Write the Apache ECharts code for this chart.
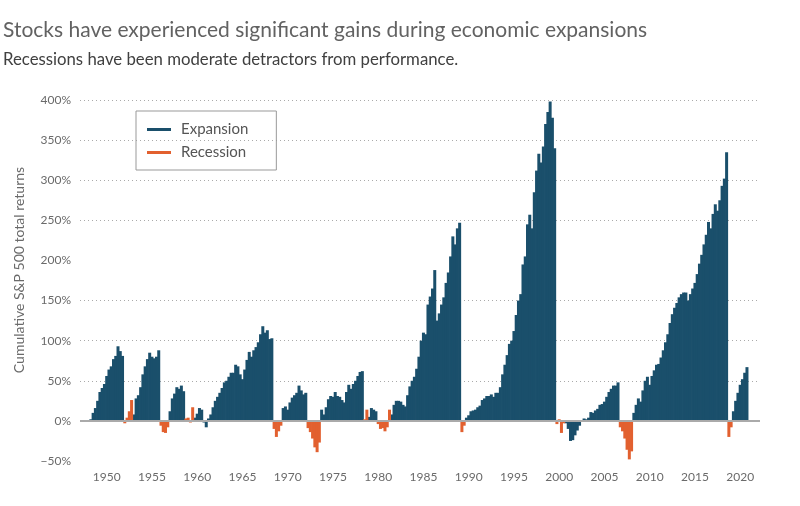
<!DOCTYPE html>
<html>
<head>
<meta charset="utf-8">
<script src="https://cdn.jsdelivr.net/npm/echarts@6/dist/echarts.min.js"></script>
<style>
html,body{margin:0;padding:0;background:#fff;}
#chart{width:800px;height:506px;}
</style>
</head>
<body>
<div id="chart"></div>
<script>
// [year, cumulative % return] — quarterly readings
const expansion = [
  [1948.25,2],[1948.5,10],[1948.75,16],[1949,25],[1949.25,36],[1949.5,41],[1949.75,46],[1950,56],[1950.25,64],[1950.5,68],[1950.75,77],[1951,81],[1951.25,93],[1951.5,87],[1951.75,81],
  [1953,8],[1953.25,28],[1953.5,32],[1953.75,42],[1954,58],[1954.25,68],[1954.5,77],[1954.75,85],[1955,80],[1955.25,78],[1955.5,80],[1955.75,88],
  [1957,12],[1957.25,28],[1957.5,34],[1957.75,42],[1958,40],[1958.25,44],[1958.5,37],
  [1959.75,4],[1960,9],[1960.25,16],[1960.5,14],[1960.75,-2],[1961,-8],
  [1961.25,3],[1961.5,8],[1961.75,17],[1962,25],[1962.25,30],[1962.5,35],[1962.75,41],[1963,48],[1963.25,50],[1963.5,55],[1963.75,60],[1964,60],[1964.25,70],[1964.5,68],[1964.75,58],[1965,52],[1965.25,64],[1965.5,76],[1965.75,86],[1966,80],[1966.25,88],[1966.5,92],[1966.75,98],[1967,108],[1967.25,118],[1967.5,110],[1967.75,113],[1968,102],[1968.25,103],
  [1969.5,16],[1969.75,18],[1970,14],[1970.25,23],[1970.5,29],[1970.75,32],[1971,35],[1971.25,44],[1971.5,38],[1971.75,33],[1972,35],
  [1973.75,14],[1974,8],[1974.25,17],[1974.5,27],[1974.75,31],[1975,30],[1975.25,36],[1975.5,31],[1975.75,30],[1976,26],[1976.25,23],[1976.5,36],[1976.75,45],[1977,40],[1977.25,46],[1977.5,50],[1977.75,56],[1978,61],[1978.25,62],
  [1979,5],[1979.25,16],[1979.5,14],[1979.75,12],
  [1981.5,8],[1981.75,20],[1982,25],[1982.25,25],[1982.5,24],[1982.75,20],[1983,18],[1983.25,32],[1983.5,43],[1983.75,50],[1984,55],[1984.25,65],[1984.5,80],[1984.75,100],[1985,110],[1985.25,108],[1985.5,145],[1985.75,155],[1986,165],[1986.25,188],[1986.5,125],[1986.75,134],[1987,145],[1987.25,154],[1987.5,172],[1987.75,185],[1988,205],[1988.25,230],[1988.5,220],[1988.75,240],[1989,247],
  [1989.75,4],[1990,7],[1990.25,12],[1990.5,13],[1990.75,14],[1991,17],[1991.25,19],[1991.5,26],[1991.75,28],[1992,31],[1992.25,31],[1992.5,33],[1992.75,30],[1993,35],[1993.25,35],[1993.5,42],[1993.75,58],[1994,70],[1994.25,82],[1994.5,96],[1994.75,100],[1995,112],[1995.25,132],[1995.5,150],[1995.75,158],[1996,195],[1996.25,205],[1996.5,245],[1996.75,257],[1997,240],[1997.25,285],[1997.5,312],[1997.75,333],[1998,322],[1998.25,342],[1998.5,370],[1998.75,385],[1999,398],[1999.25,378],[1999.5,340],
  [2000.75,-3],[2001,-10],[2001.25,-25],[2001.5,-24],[2001.75,-18],[2002,-12],[2002.25,-6],[2002.5,-1],[2002.75,3],[2003,2],[2003.25,4],[2003.5,11],[2003.75,10],[2004,13],[2004.25,15],[2004.5,20],[2004.75,21],[2005,24],[2005.25,30],[2005.5,36],[2005.75,40],[2006,44],[2006.25,44],[2006.5,48],
  [2008.25,10],[2008.5,20],[2008.75,28],[2009,24],[2009.25,38],[2009.5,50],[2009.75,55],[2010,45],[2010.25,56],[2010.5,63],[2010.75,70],[2011,71],[2011.25,79],[2011.5,88],[2011.75,98],[2012,108],[2012.25,122],[2012.5,133],[2012.75,141],[2013,147],[2013.25,154],[2013.5,158],[2013.75,160],[2014,160],[2014.25,150],[2014.5,158],[2014.75,165],[2015,172],[2015.25,183],[2015.5,196],[2015.75,207],[2016,220],[2016.25,232],[2016.5,248],[2016.75,240],[2017,258],[2017.25,270],[2017.5,262],[2017.75,275],[2018,293],[2018.25,302],[2018.5,335],
  [2019.25,12],[2019.5,25],[2019.75,35],[2020,45],[2020.25,52],[2020.5,60],[2020.75,67]
];
const recession = [
  [1952,-3],[1952.25,4],[1952.5,12],[1952.75,26],
  [1956,-6],[1956.25,-14],[1956.5,-15],[1956.75,-8],
  [1958.75,3],[1959,4],[1959.25,-2],[1959.5,17],
  [1968.5,-10],[1968.75,-20],[1969,-13],[1969.25,-6],
  [1972.25,-9],[1972.5,-14],[1972.75,-22],[1973,-33],[1973.25,-39],[1973.5,-27],
  [1978.5,2],[1978.75,14],
  [1980,-4],[1980.25,-10],[1980.5,-9],[1980.75,-13],[1981,-8],[1981.25,14],
  [1989.25,-14],[1989.5,-6],
  [1999.75,-4],[2000,2],[2000.25,-15],[2000.5,-3],
  [2006.75,-8],[2007,-13],[2007.25,-22],[2007.5,-36],[2007.75,-48],[2008,-38],
  [2018.75,-20],[2019,-8]
];
const yearTicks = [1950,1955,1960,1965,1970,1975,1980,1985,1990,1995,2000,2005,2010,2015,2020];
const seriesNames = ['Expansion','Recession'];
const titleText = 'Stocks have experienced significant gains during economic expansions';
const subtitleText = 'Recessions have been moderate detractors from performance.';
const yAxisTitle = 'Cumulative S&P 500 total returns';

const FONT = 'Lato, "Open Sans", sans-serif';
const C_EXP = '#1a4f6b';
const C_REC = '#e2602f';
const grid = '#aaaaaa';
const T = 'rgba(0,0,0,0)';

const chart = echarts.init(document.getElementById('chart'), null, {renderer:'canvas'});
chart.setOption({
  animation:false,
  textStyle:{fontFamily:FONT},
  graphic:[
    {type:'text', left:3, top:20, style:{text:titleText, font:'21px '+FONT, fill:'#626262'}},
    {type:'text', left:3, top:51, style:{text:subtitleText, font:'16.75px '+FONT, fill:'#404040'}},
    {type:'text', x:19, y:270, rotation:Math.PI/2, style:{text:yAxisTitle, font:'14px '+FONT, fill:'#6a6a6a', align:'center', verticalAlign:'middle'}}
  ],
  legend:{
    data:seriesNames,
    orient:'vertical',
    left:136, top:111,
    padding:[11,28,10,11],
    itemGap:8,
    itemWidth:24, itemHeight:3,
    icon:'rect',
    borderColor:'#999', borderWidth:1,
    textStyle:{fontSize:15, color:'#555', fontFamily:FONT, padding:[0,0,0,5]}
  },
  grid:{left:80, right:40, top:100, bottom:45, containLabel:false},
  xAxis:{
    type:'value', min:1947.05, max:2022.19,
    axisLine:{show:false}, axisTick:{show:false}, splitLine:{show:false},
    axisLabel:{customValues:yearTicks, formatter:v=>String(v), color:'#6a6a6a', fontSize:12, margin:10, fontFamily:FONT}
  },
  yAxis:{
    type:'value', min:-50, max:400, interval:50,
    axisLine:{show:false}, axisTick:{show:false},
    axisLabel:{formatter:v=>(v<0?'\u2212'+Math.abs(v):v)+'%', color:'#6a6a6a', fontSize:12, margin:9, fontFamily:FONT},
    splitLine:{show:true, lineStyle:{type:[1,3], width:1, color:[T,T,grid,grid,grid,T,grid,grid,grid,grid]}}
  },
  series:[
    {name:seriesNames[0], type:'bar', data:expansion, barWidth:3, barGap:'-100%',
     itemStyle:{color:C_EXP},
     markLine:{silent:true, symbol:['none','none'], label:{show:false},
       lineStyle:{color:'#aaaaaa', width:2, type:'solid'}, data:[{yAxis:0}]}},
    {name:seriesNames[1], type:'bar', data:recession, barWidth:3, barGap:'-100%',
     itemStyle:{color:C_REC}}
  ]
});
</script>
</body>
</html>
